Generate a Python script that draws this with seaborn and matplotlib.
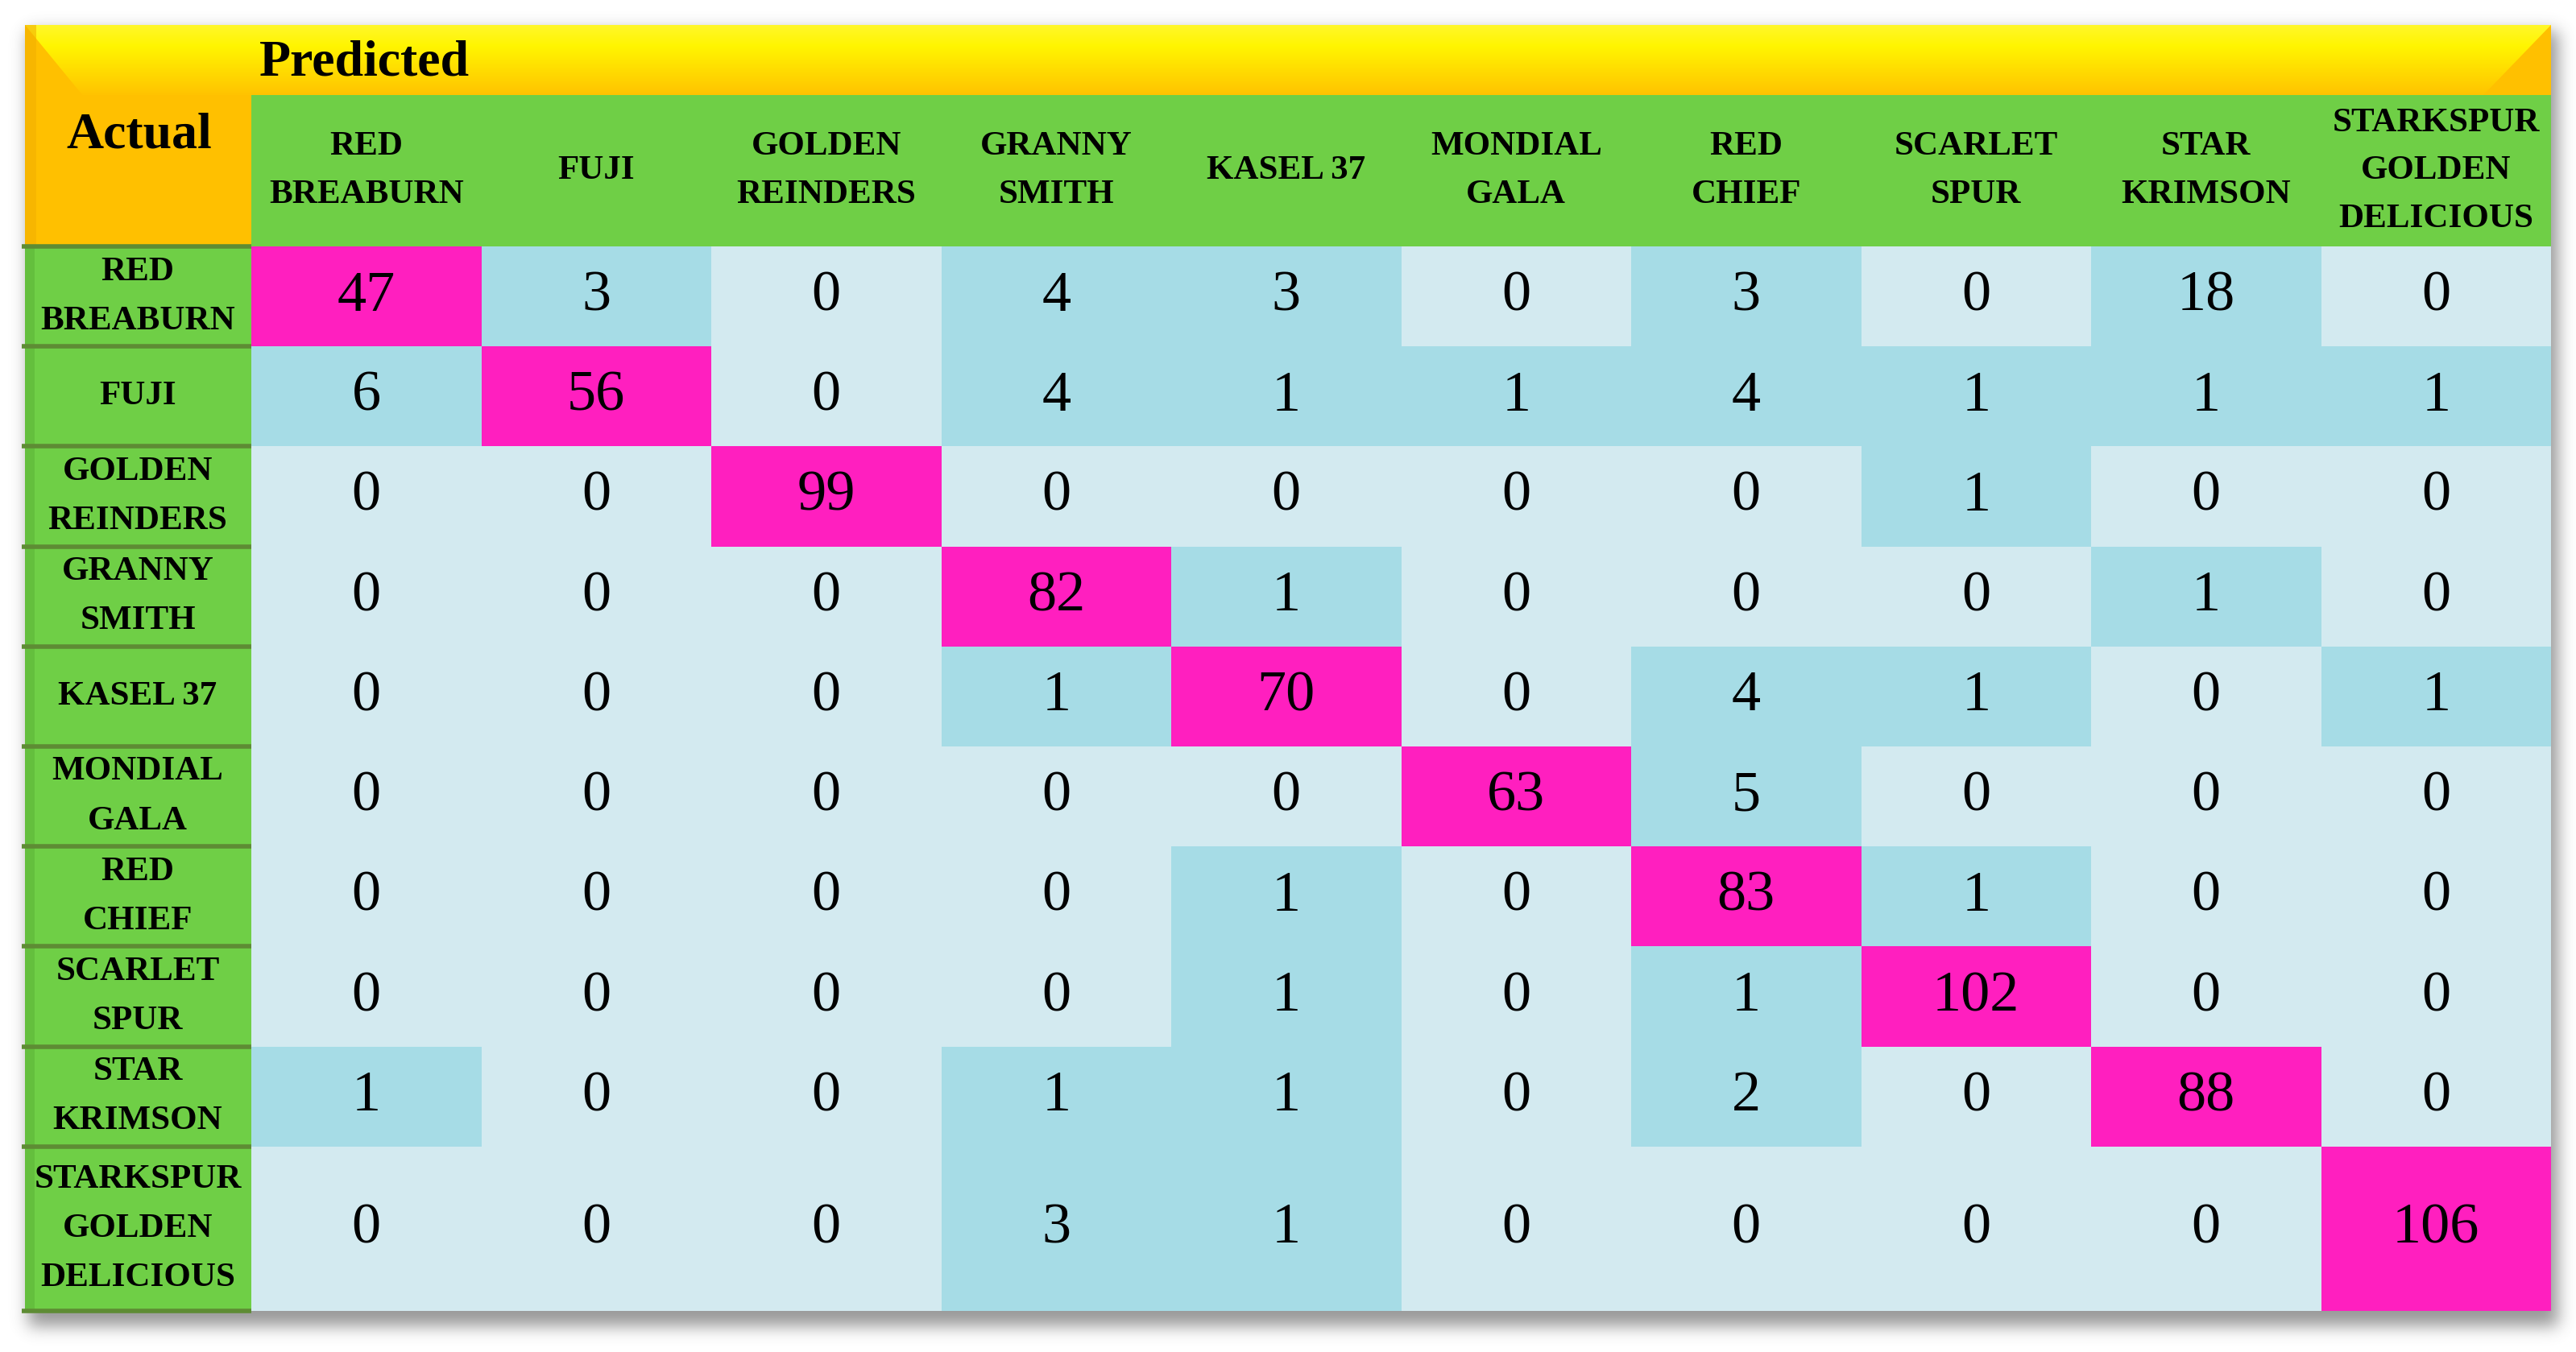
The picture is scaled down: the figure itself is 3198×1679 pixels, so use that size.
import numpy as np
import pandas as pd
import matplotlib
matplotlib.use("Agg")
import matplotlib.pyplot as plt
import seaborn as sns
from matplotlib.colors import ListedColormap, LinearSegmentedColormap
from matplotlib.patches import Rectangle, Polygon

# ---------------- data ----------------
classes = ["RED\nBREABURN", "FUJI", "GOLDEN\nREINDERS", "GRANNY\nSMITH", "KASEL 37",
           "MONDIAL\nGALA", "RED\nCHIEF", "SCARLET\nSPUR", "STAR\nKRIMSON",
           "STARKSPUR\nGOLDEN\nDELICIOUS"]

row_red_breaburn     = [47, 3, 0, 4, 3, 0, 3, 0, 18, 0]
row_fuji             = [6, 56, 0, 4, 1, 1, 4, 1, 1, 1]
row_golden_reinders  = [0, 0, 99, 0, 0, 0, 0, 1, 0, 0]
row_granny_smith     = [0, 0, 0, 82, 1, 0, 0, 0, 1, 0]
row_kasel_37         = [0, 0, 0, 1, 70, 0, 4, 1, 0, 1]
row_mondial_gala     = [0, 0, 0, 0, 0, 63, 5, 0, 0, 0]
row_red_chief        = [0, 0, 0, 0, 1, 0, 83, 1, 0, 0]
row_scarlet_spur     = [0, 0, 0, 0, 1, 0, 1, 102, 0, 0]
row_star_krimson     = [1, 0, 0, 1, 1, 0, 2, 0, 88, 0]
row_starkspur_golden = [0, 0, 0, 3, 1, 0, 0, 0, 0, 106]

rows = [row_red_breaburn, row_fuji, row_golden_reinders, row_granny_smith, row_kasel_37,
        row_mondial_gala, row_red_chief, row_scarlet_spur, row_star_krimson,
        row_starkspur_golden]

vals = pd.DataFrame(rows, index=classes, columns=classes)
cat = (vals > 0).astype(int)
for i in range(len(classes)):
    cat.iat[i, i] = 2

# ---------------- styling ----------------
sns.set_style("white")
plt.rcParams["font.family"] = ["Liberation Serif", "DejaVu Serif"]

C_LIGHT = "#D3EAF0"
C_DARK = "#A6DCE6"
C_PINK = "#FF1FBF"
C_GREEN = "#6FCF46"
C_ORANGE = "#FFC000"
cell_cmap = ListedColormap([C_LIGHT, C_DARK, C_PINK])

W, H = 3198, 1679
L, T, R, B = 31, 31, 3167, 1628
HB, HH, C1 = 118, 306, 312
n_top = 9
row_h = 124.2
R9 = HH + n_top * row_h

fig = plt.figure(figsize=(W / 100, H / 100), dpi=100)
fig.patch.set_facecolor("white")

def frect(x0, y0, x1, y1):
    return [x0 / W, 1 - y1 / H, (x1 - x0) / W, (y1 - y0) / H]

bg = fig.add_axes([0, 0, 1, 1], zorder=0)
bg.axis("off")

# soft drop shadow
def blur1d(n, a, b, sigma):
    x = np.arange(n)
    box = ((x >= a) & (x <= b)).astype(float)
    k = np.arange(-4 * sigma, 4 * sigma + 1)
    g = np.exp(-0.5 * (k / sigma) ** 2)
    g /= g.sum()
    return np.convolve(box, g, mode="same")

sx = blur1d(W, L + 4, R + 8, 10)
sy = blur1d(H, T + 8, B + 18, 10)
alpha = np.outer(sy, sx) * 0.6
shadow = np.zeros((H, W, 4))
shadow[..., :3] = 0.33
shadow[..., 3] = alpha
bg.imshow(shadow, extent=[0, W, H, 0], aspect="auto", interpolation="bilinear")

# yellow-orange gradient band
band_cmap = LinearSegmentedColormap.from_list(
    "band", [(0, "#FFF72A"), (0.3, "#FFF500"), (1, "#FFC300")])
grad = np.linspace(0, 1, 200).reshape(-1, 1)
bg.imshow(grad, extent=[L, R, HB, T], aspect="auto", cmap=band_cmap)

# corner cell and bevels
bg.add_patch(Rectangle((L, HB), C1 - L, HH - HB, color=C_ORANGE, lw=0))
bg.add_patch(Polygon([(L, T), (L + 100, HB + 35), (L, HB + 35)], closed=True,
                     color=C_ORANGE, lw=0))
bg.add_patch(Rectangle((L, T), 14, HH - T, color="#F2B000", lw=0, alpha=0.6))
bg.add_patch(Polygon([(R, T), (R, HB), (R - 84, HB)], closed=True,
                     color=C_ORANGE, lw=0))

# green header row and label column
bg.add_patch(Rectangle((C1, HB), R - C1, HH - HB, color=C_GREEN, lw=0))
bg.add_patch(Rectangle((L, HH), C1 - L, B - HH, color=C_GREEN, lw=0))
bg.add_patch(Rectangle((L, HH), 12, B - HH, color="#5DB538", lw=0, alpha=0.6))

# separator lines in the label column
bounds = [HH + k * row_h for k in range(n_top + 1)] + [B]
for yb in bounds:
    bg.plot([L - 4, C1], [yb, yb], color="#5E8C34", lw=4, solid_capstyle="butt")

bg.text(322, 78, "Predicted", fontsize=46, fontweight="bold", ha="left", va="center",
        color="black")
bg.text(173, 168, "Actual", fontsize=46, fontweight="bold", ha="center", va="center",
        color="black")

bg.set_xlim(0, W)
bg.set_ylim(H, 0)

annot_kws = dict(fontsize=52, color="black", family="Liberation Serif")

# top 9 rows
ax1 = fig.add_axes(frect(C1, HH, R, R9), zorder=2)
sns.heatmap(cat.iloc[:n_top], annot=vals.iloc[:n_top], fmt="d", cmap=cell_cmap,
            vmin=-0.5, vmax=2.5, cbar=False, ax=ax1, linewidths=0,
            xticklabels=classes, yticklabels=classes[:n_top], annot_kws=annot_kws)

# last (taller) row
ax2 = fig.add_axes(frect(C1, R9, R, B), zorder=2)
sns.heatmap(cat.iloc[n_top:], annot=vals.iloc[n_top:], fmt="d", cmap=cell_cmap,
            vmin=-0.5, vmax=2.5, cbar=False, ax=ax2, linewidths=0,
            xticklabels=False, yticklabels=classes[n_top:], annot_kws=annot_kws)

ax1.xaxis.tick_top()
ax1.tick_params(axis="x", length=0, pad=67.5, top=True, bottom=False,
                labeltop=True, labelbottom=False)
for lbl in ax1.get_xticklabels():
    lbl.set_rotation(0)
    lbl.set_fontsize(31)
    lbl.set_fontweight("bold")
    lbl.set_ha("center")
    lbl.set_va("center")
    lbl.set_linespacing(1.75)
    lbl.set_color("black")

for ax in (ax1, ax2):
    ax.tick_params(axis="y", length=0, pad=101.5)
    ax.set_xlabel("")
    ax.set_ylabel("")
    for lbl in ax.get_yticklabels():
        lbl.set_rotation(0)
        lbl.set_fontsize(31)
        lbl.set_fontweight("bold")
        lbl.set_ha("center")
        lbl.set_va("center")
        lbl.set_linespacing(1.8)
        lbl.set_color("black")

fig.savefig("out.png", dpi=100, facecolor="white")
